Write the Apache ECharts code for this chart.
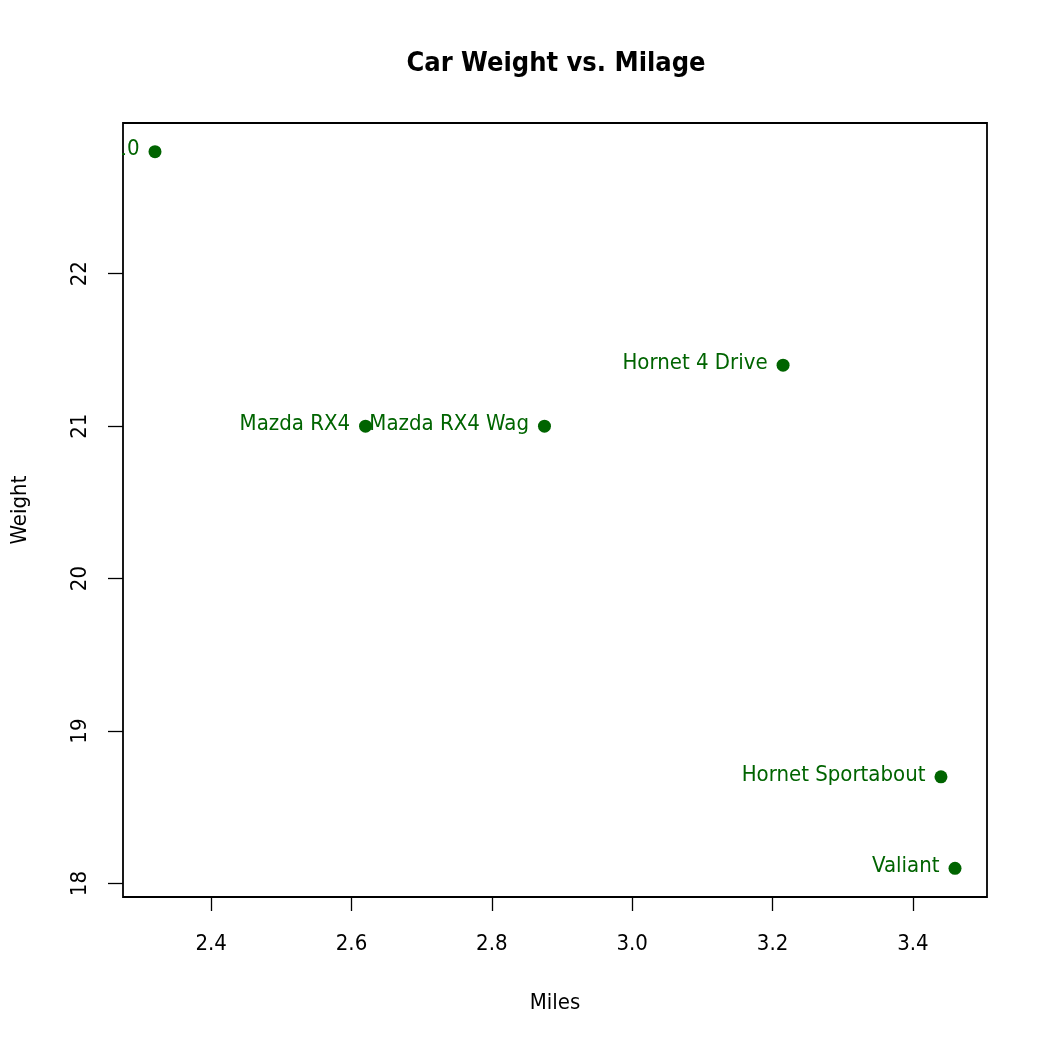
<!DOCTYPE html>
<html>
<head>
<meta charset="utf-8">
<script src="https://cdn.jsdelivr.net/npm/echarts@6/dist/echarts.min.js"></script>
<style>html,body{margin:0;padding:0;background:#fff}#c{width:1050px;height:1050px}</style>
</head>
<body>
<div id="c"></div>
<script>
var cars = ['Mazda RX4', 'Mazda RX4 Wag', 'Datsun 710', 'Hornet 4 Drive', 'Hornet Sportabout', 'Valiant'];
var wt = [2.620, 2.875, 2.320, 3.215, 3.440, 3.460];
var mpg = [21.0, 21.0, 22.8, 21.4, 18.7, 18.1];
var xTicks = [2.4, 2.6, 2.8, 3.0, 3.2, 3.4];
var yTicks = [18, 19, 20, 21, 22];

var FONT = "'DejaVu Sans Condensed', 'DejaVu Sans', sans-serif";
var data = cars.map(function (n, i) { return { name: n, value: [wt[i], mpg[i]] }; });
var xr = [Math.min.apply(null, wt), Math.max.apply(null, wt)];
var yr = [Math.min.apply(null, mpg), Math.max.apply(null, mpg)];
var xp = (xr[1] - xr[0]) * 0.04, yp = (yr[1] - yr[0]) * 0.04;

var chart = echarts.init(document.getElementById('c'), null, { renderer: 'canvas' });
chart.setOption({
  animation: false,
  backgroundColor: '#fff',
  title: {
    text: 'Car Weight vs. Milage',
    left: 551, top: 45, textAlign: 'center',
    textStyle: { fontFamily: FONT, fontSize: 27, fontWeight: 'bold', color: '#000' }
  },
  grid: { left: 123, top: 123, right: 63, bottom: 153, show: true, borderColor: '#000', borderWidth: 1.8, backgroundColor: 'transparent' },
  xAxis: {
    type: 'value', min: xr[0] - xp, max: xr[1] + xp,
    name: 'Miles', nameLocation: 'middle', nameGap: 95,
    nameTextStyle: { fontFamily: FONT, fontSize: 22, color: '#000' },
    axisLine: { show: false },
    axisTick: { show: true, length: 14, customValues: xTicks, lineStyle: { color: '#000', width: 1.3 } },
    axisLabel: { customValues: xTicks, margin: 36, fontFamily: FONT, fontSize: 22, color: '#000',
      formatter: function (v) { return v.toFixed(1); } },
    splitLine: { show: false }
  },
  yAxis: {
    type: 'value', min: yr[0] - yp, max: yr[1] + yp,
    name: 'Weight', nameLocation: 'middle', nameGap: 92,
    nameTextStyle: { fontFamily: FONT, fontSize: 22, color: '#000' },
    axisLine: { show: false },
    axisTick: { show: true, length: 15, customValues: yTicks, lineStyle: { color: '#000', width: 1.3 } },
    axisLabel: { customValues: yTicks, rotate: 90, margin: 32, fontFamily: FONT, fontSize: 22, color: '#000' },
    splitLine: { show: false }
  },
  series: [{
    type: 'scatter',
    data: data,
    symbol: 'circle', symbolSize: 13,
    itemStyle: { color: '#006400', opacity: 1 },
    label: {
      show: true, position: 'left', distance: 9, offset: [0, -2],
      formatter: function (p) { return p.name; },
      fontFamily: FONT, fontSize: 22, color: '#006400'
    }
  }],
  graphic: [{
    type: 'rect', z: 100, silent: true,
    shape: { x: 0, y: 128, width: 122, height: 45 },
    style: { fill: '#fff' }
  }]
});
</script>
</body>
</html>
